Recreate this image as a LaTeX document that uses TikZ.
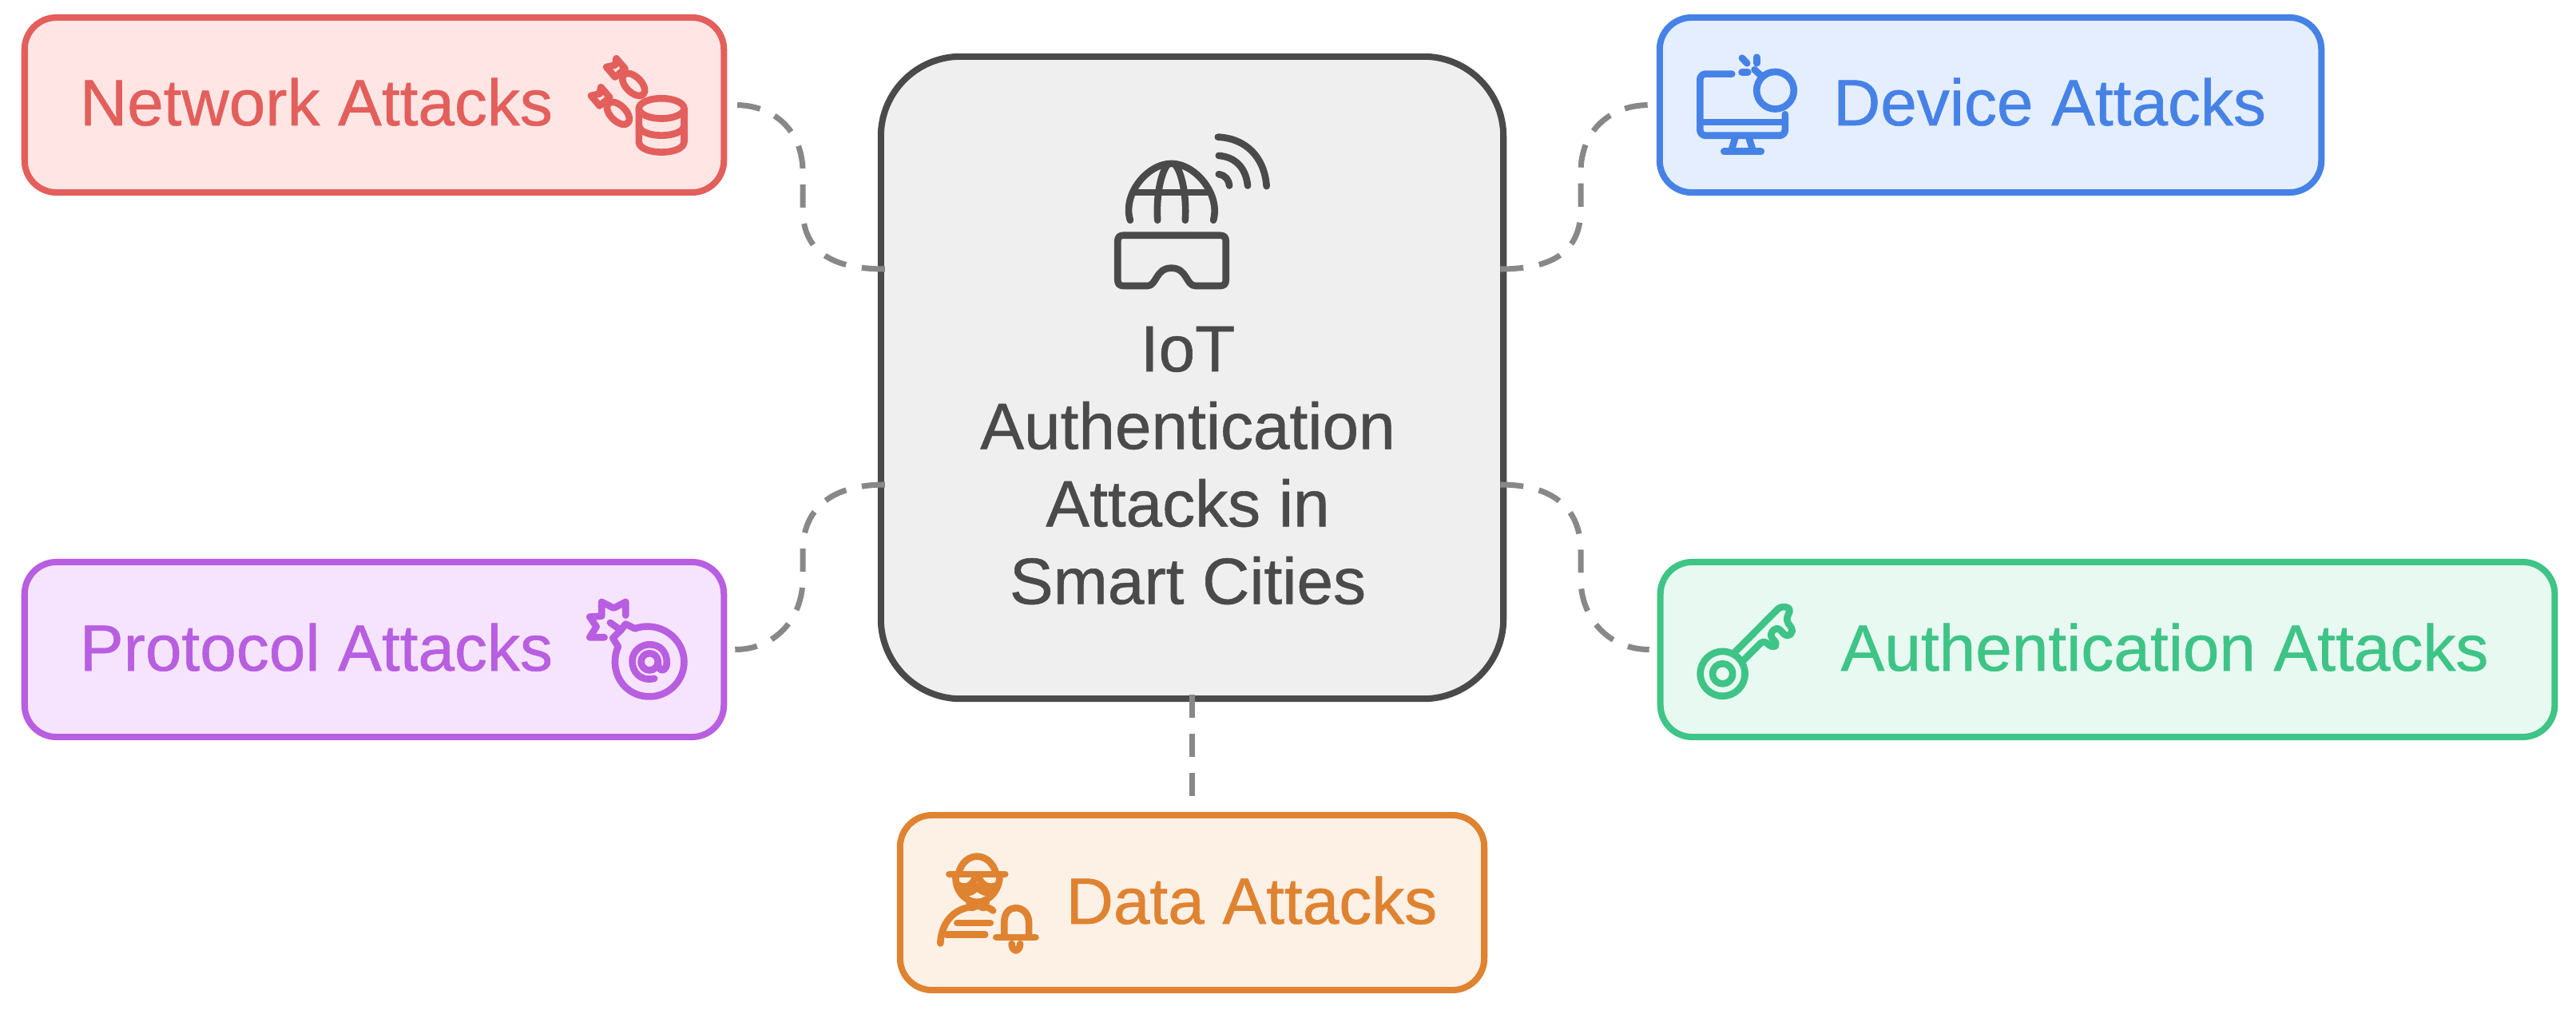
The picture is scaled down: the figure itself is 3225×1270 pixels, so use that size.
\documentclass[tikz,border=0pt]{standalone}
\usepackage{fontspec}
\setmainfont[FakeBold=0.7]{Liberation Sans}
\definecolor{netred}{HTML}{E35F5C}
\definecolor{netfill}{HTML}{FFE6E5}
\definecolor{devblue}{HTML}{4682E6}
\definecolor{devfill}{HTML}{E4EEFF}
\definecolor{protopurple}{HTML}{B85EE0}
\definecolor{protofill}{HTML}{F6E4FF}
\definecolor{authgreen}{HTML}{3EC486}
\definecolor{authfill}{HTML}{E8F9F2}
\definecolor{dataorange}{HTML}{DF8331}
\definecolor{datafill}{HTML}{FDF1E6}
\definecolor{hubgray}{HTML}{4A4A4A}
\definecolor{hubfill}{HTML}{EFEFEF}
\definecolor{linkgray}{HTML}{888888}
\tikzset{
    leafbox/.style 2 args={draw=#1, fill=#2, line width=2.28pt, rounded corners=0.4cm,
        minimum height=2.19cm, inner sep=0pt},
    leaftext/.style={text=#1, anchor=base, inner sep=0pt, font=\fontsize{23.3}{28}\selectfont},
    link/.style={draw=linkgray, line width=2pt, dash pattern=on 8.25pt off 5.69pt},
    iconline/.style={draw=#1, line width=2.45pt, line cap=round, line join=round},
    icongrid/.style={x=0.0033333cm, y=-0.0033333cm}
}

\begin{document}
\begin{tikzpicture}[x=0.01cm, y=-0.01cm]
        \useasboundingbox (0, 0) rectangle (3225, 1270);

        \node [draw=hubgray, fill=hubfill, line width=2.28pt, rounded corners=1cm, inner sep=0pt,
            minimum width=7.79cm, minimum height=8.04cm] (hub) at (1492.5, 473) {};
        \node [leafbox={netred}{netfill}, minimum width=8.75cm] (network) at (468.5, 131.5) {};
        \node [leafbox={devblue}{devfill}, minimum width=8.28cm] (device) at (2492, 131.5) {};
        \node [leafbox={protopurple}{protofill}, minimum width=8.75cm] (protocol) at (468.5, 813.5) {};
        \node [leafbox={authgreen}{authfill}, minimum width=11.19cm] (authentication) at (2638.5, 813.5) {};
        \node [leafbox={dataorange}{datafill}, minimum width=7.31cm] (data) at (1492.5, 1130.5) {};

        \node [text=hubgray, align=center, inner sep=0pt, font=\fontsize{23.3}{27.6}\selectfont]
            (hublabel) at (1487, 583) {IoT\\Authentication\\Attacks in\\Smart Cities};
        \node [leaftext=netred] (networklabel) at (396, 157) {Network Attacks};
        \node [leaftext=devblue] (devicelabel) at (2566, 157) {Device Attacks};
        \node [leaftext=protopurple] (protocollabel) at (396, 840) {Protocol Attacks};
        \node [leaftext=authgreen] (authenticationlabel) at (2710, 840) {Authentication Attacks};
        \node [leaftext=dataorange] (datalabel) at (1567, 1157) {Data Attacks};

        \draw [link] ([shift={(9,-136)}]hub.west) .. controls +(-70,0) and +(0,50) .. (1005, 262)
            -- (1005, 215) .. controls +(0,-50) and +(50,0) .. ([shift={(10,0)}]network.east);
        \draw [link] ([shift={(-8,-136)}]hub.east) .. controls +(70,0) and +(0,50) .. (1979, 262)
            -- (1979, 215) .. controls +(0,-50) and +(-50,0) .. ([shift={(-9,0)}]device.west);
        \draw [link] ([shift={(9,134)}]hub.west) .. controls +(-70,0) and +(0,-50) .. (1005, 690)
            -- (1005, 725) .. controls +(0,50) and +(50,0) .. ([shift={(10,0)}]protocol.east);
        \draw [link] ([shift={(-8,134)}]hub.east) .. controls +(70,0) and +(0,-50) .. (1979, 690)
            -- (1979, 725) .. controls +(0,50) and +(-50,0) .. ([shift={(-10,0)}]authentication.west);
        \draw [link] ([shift={(0,-9)}]hub.south) -- ([shift={(0,-20)}]data.north);

        \begin{scope}[shift={(1360, 150)}, icongrid]
            \draw [iconline=hubgray] (165, 378) .. controls (135, 280) and (230, 165) .. (320, 165)
                .. controls (410, 165) and (505, 280) .. (478, 378);
            \draw [iconline=hubgray] (180, 273) -- (465, 273);
            \draw [iconline=hubgray] (268, 378) .. controls (262, 290) and (280, 200) .. (305, 170);
            \draw [iconline=hubgray] (372, 378) .. controls (378, 290) and (360, 200) .. (335, 170);
            \draw [iconline=hubgray] (140, 435) -- (503, 435) .. controls (518, 435) and (525, 442) .. (525, 457)
                -- (525, 603) .. controls (525, 618) and (518, 625) .. (503, 625) -- (410, 625)
                .. controls (375, 625) and (380, 558) .. (320, 558)
                .. controls (260, 558) and (265, 625) .. (230, 625) -- (140, 625)
                .. controls (125, 625) and (118, 618) .. (118, 603) -- (118, 457)
                .. controls (118, 442) and (125, 435) .. (140, 435) -- cycle;
            \draw [iconline=hubgray] (498, 205) .. controls (525, 210) and (535, 225) .. (538, 248);
            \draw [iconline=hubgray] (498, 135) .. controls (560, 140) and (600, 180) .. (607, 248);
            \draw [iconline=hubgray] (495, 65) .. controls (600, 70) and (670, 140) .. (678, 250);
        \end{scope}

        \begin{scope}[shift={(720, 50)}, icongrid]
            \draw [iconline=netred] (325, 258) ellipse [x radius=85, y radius=38];
            \draw [iconline=netred] (240, 258) -- (240, 385) .. controls (245, 435) and (405, 435) .. (410, 385) -- (410, 258);
            \draw [iconline=netred] (240, 322) .. controls (245, 372) and (405, 372) .. (410, 322);
            \draw [iconline=netred, rotate around={-45:(220, 168)}] (220, 168) ellipse [x radius=52, y radius=29];
            \draw [iconline=netred, rotate around={-45:(162, 276)}] (162, 276) ellipse [x radius=52, y radius=29];
            \draw [iconline=netred] (155, 70) -- (188, 108) -- (150, 140) -- (118, 102) -- (150, 95) -- cycle;
            \draw [iconline=netred] (97, 178) -- (130, 216) -- (92, 248) -- (60, 210) -- (92, 203) -- cycle;
        \end{scope}

        \begin{scope}[shift={(2100, 50)}, icongrid]
            \draw [iconline=devblue, rounded corners=2pt] (205, 128) -- (85, 128) -- (85, 360) -- (405, 360) -- (405, 280);
            \draw [iconline=devblue] (85, 310) -- (405, 310);
            \draw [iconline=devblue] (218, 365) -- (205, 410);
            \draw [iconline=devblue] (268, 365) -- (282, 410);
            \draw [iconline=devblue] (175, 420) -- (315, 420);
            \draw [iconline=devblue] (368, 190) circle (70);
            \draw [iconline=devblue] (290, 112) -- (312, 132);
            \draw [iconline=devblue] (242, 122) -- (265, 122);
            \draw [iconline=devblue] (243, 68) -- (262, 88);
            \draw [iconline=devblue] (298, 65) -- (298, 88);
        \end{scope}

        \begin{scope}[shift={(720, 730)}, icongrid]
            \draw [iconline=protopurple] (225, 172) .. controls (320, 140) and (410, 210) .. (410, 297)
                .. controls (410, 370) and (350, 428) .. (280, 428)
                .. controls (205, 428) and (150, 370) .. (150, 297)
                .. controls (150, 275) and (155, 255) .. (162, 240)
                -- (142, 208) -- (172, 178) -- (132, 150);
            \draw [iconline=protopurple] (172, 178) -- (190, 155) -- (225, 172);
            \draw [iconline=protopurple] (298, 360) .. controls (245, 372) and (215, 335) .. (215, 295)
                .. controls (215, 255) and (250, 232) .. (280, 232)
                .. controls (320, 232) and (345, 260) .. (345, 300)
                .. controls (345, 335) and (312, 340) .. (312, 300);
            \draw [iconline=protopurple] (280, 297) circle (32);
            \draw [iconline=protopurple] (190, 122) -- (190, 72) -- (145, 95) -- (100, 72) -- (100, 125)
                -- (55, 128) -- (80, 165) -- (55, 205) -- (110, 205);
        \end{scope}

        \begin{scope}[shift={(2110, 730)}, icongrid]
            \draw [iconline=authgreen] (140, 342) circle (84);
            \draw [iconline=authgreen] (140, 342) circle (38);
            \draw [iconline=authgreen, rounded corners=1.5pt] (185, 262) -- (358, 88) -- (398, 95) -- (378, 140) -- (408, 182)
                -- (382, 205) -- (345, 165) -- (315, 195) -- (348, 232) -- (325, 245) -- (295, 215) -- (215, 295);
        \end{scope}

        \begin{scope}[shift={(1160, 1050)}, icongrid]
            \draw [iconline=dataorange] (120, 135) .. controls (130, 85) and (165, 68) .. (190, 68)
                .. controls (215, 68) and (250, 85) .. (262, 135);
            \draw [iconline=dataorange] (85, 135) -- (295, 135);
            \draw [iconline=dataorange] (110, 140) .. controls (105, 200) and (150, 240) .. (190, 240)
                .. controls (230, 240) and (275, 200) .. (275, 140);
            \draw [iconline=dataorange] (118, 175) .. controls (145, 190) and (170, 180) .. (182, 150);
            \draw [iconline=dataorange] (198, 150) .. controls (210, 180) and (240, 190) .. (268, 175);
            \draw [iconline=dataorange] (190, 180) .. controls (175, 205) and (160, 205) .. (140, 205);
            \draw [iconline=dataorange] (190, 180) .. controls (205, 205) and (225, 205) .. (245, 205);
            \draw [iconline=dataorange] (160, 240) -- (215, 262);
            \draw [iconline=dataorange] (225, 240) -- (170, 262);
            \draw [iconline=dataorange] (52, 395) .. controls (55, 320) and (100, 265) .. (170, 258);
            \draw [iconline=dataorange] (170, 258) .. controls (200, 250) and (230, 255) .. (250, 272);
            \draw [iconline=dataorange] (115, 318) -- (240, 318);
            \draw [iconline=dataorange] (75, 362) -- (220, 362);
            \draw [iconline=dataorange] (292, 370) -- (292, 320) .. controls (292, 275) and (315, 262) .. (335, 262)
                .. controls (360, 262) and (385, 280) .. (385, 320) -- (385, 370);
            \draw [iconline=dataorange] (262, 372) -- (410, 372);
            \draw [iconline=dataorange] (320, 397) .. controls (322, 430) and (350, 430) .. (352, 397);
        \end{scope}
\end{tikzpicture}
\end{document}
